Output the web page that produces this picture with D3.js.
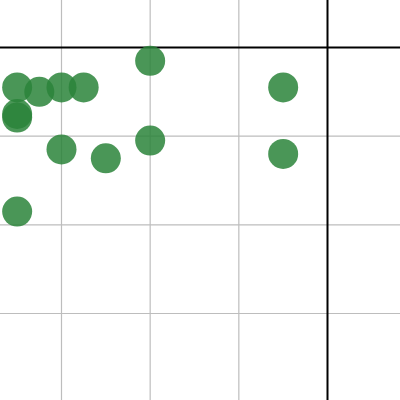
<!DOCTYPE html>
<html><head><meta charset="utf-8">
<script src="https://cdn.jsdelivr.net/npm/d3@7"></script>
<style>html,body{margin:0;padding:0;background:#fff;}svg{display:block;}</style>
</head><body>
<svg id="chart" width="400" height="400"></svg>
<script>
const xValues = [-2, -3.5, -3.25, -3, -2.75, -3.5, -3.5, -3, -2.5, -2, -3.5, -0.5, -0.5];
const yValues = [-0.15, -0.45, -0.5, -0.45, -0.45, -0.75, -0.79, -1.15, -1.25, -1.05, -1.85, -0.45, -1.2];
const gridTicks = [-4, -3, -2, -1, 0, 1];

const W = 400, H = 400;
const unit = 88.67, ox = 327.5, oy = 47.5;
const x = d3.scaleLinear().domain([-ox / unit, (W - ox) / unit]).range([0, W]);
const y = d3.scaleLinear().domain([oy / unit, (oy - H) / unit]).range([0, H]);

const svg = d3.select("#chart");
const g = svg.append("g");

g.append("g").selectAll("line").data(gridTicks.filter(t => t !== 0)).join("line")
  .attr("x1", d => x(d)).attr("x2", d => x(d)).attr("y1", 0).attr("y2", H)
  .attr("stroke", "#bdbdbd").attr("stroke-width", 1.2);
g.append("g").selectAll("line").data(gridTicks.filter(t => t !== 0)).join("line")
  .attr("y1", d => y(d)).attr("y2", d => y(d)).attr("x1", 0).attr("x2", W)
  .attr("stroke", "#bdbdbd").attr("stroke-width", 1.2);

g.append("line").attr("x1", x(0)).attr("x2", x(0)).attr("y1", 0).attr("y2", H)
  .attr("stroke", "#000").attr("stroke-width", 2);
g.append("line").attr("y1", y(0)).attr("y2", y(0)).attr("x1", 0).attr("x2", W)
  .attr("stroke", "#000").attr("stroke-width", 2);

const pts = xValues.map((v, i) => ({x: v, y: yValues[i]}));
g.append("g").selectAll("circle").data(pts).join("circle")
  .attr("cx", d => x(d.x)).attr("cy", d => y(d.y)).attr("r", 15)
  .attr("fill", "rgb(42,132,57)").attr("fill-opacity", 0.85);
</script>
</body></html>
